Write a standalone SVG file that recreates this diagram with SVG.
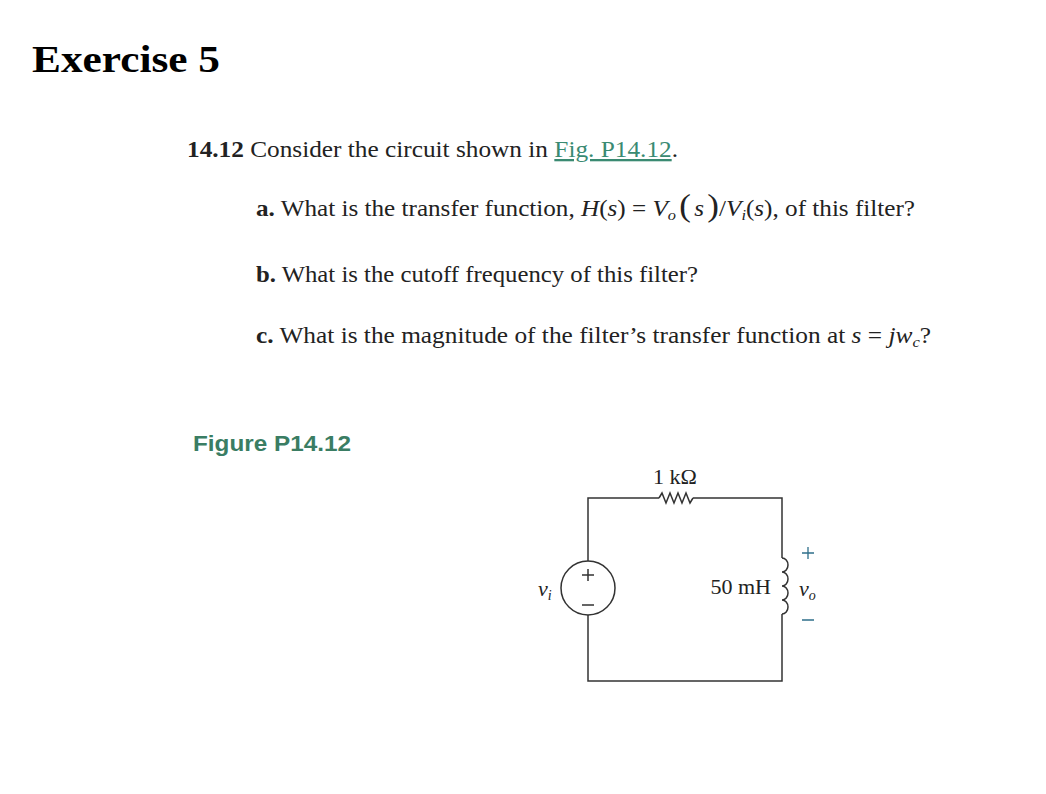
<svg xmlns="http://www.w3.org/2000/svg" width="1046" height="794" viewBox="0 0 1046 794">
<style>
.t{font-family:"Liberation Serif",serif;font-size:23px;fill:#222}
.w{fill:none;stroke:#333;stroke-width:1.5}
.c{font-family:"Liberation Serif",serif;font-size:22px;fill:#222}
</style>
<rect width="1046" height="794" fill="#fff"/>
<text x="32" y="72" font-family="Liberation Serif,serif" font-weight="bold" font-size="38" fill="#000" textLength="188" lengthAdjust="spacingAndGlyphs">Exercise 5</text>
<text x="187" y="157" class="t" textLength="491" lengthAdjust="spacingAndGlyphs"><tspan font-weight="bold">14.12</tspan>  Consider the circuit shown in <tspan fill="#3a8a72" text-decoration="underline">Fig. P14.12</tspan>.</text>
<text x="256" y="216" class="t" textLength="659" lengthAdjust="spacingAndGlyphs"><tspan font-weight="bold">a.</tspan> What is the transfer function, <tspan font-style="italic">H</tspan>(<tspan font-style="italic">s</tspan>) = <tspan font-style="italic">V</tspan><tspan font-style="italic" font-size="15" dy="4">o</tspan><tspan dy="-4" font-size="32" dx="3">(</tspan><tspan font-style="italic" dx="3">s</tspan><tspan font-size="32" dx="3">)</tspan>/<tspan font-style="italic">V</tspan><tspan font-style="italic" font-size="15" dy="4">i</tspan><tspan dy="-4">(</tspan><tspan font-style="italic">s</tspan>), of this filter?</text>
<text x="256" y="282" class="t" textLength="442" lengthAdjust="spacingAndGlyphs"><tspan font-weight="bold">b.</tspan> What is the cutoff frequency of this filter?</text>
<text x="256" y="343" class="t" textLength="675" lengthAdjust="spacingAndGlyphs"><tspan font-weight="bold">c.</tspan> What is the magnitude of the filter’s transfer function at <tspan font-style="italic">s</tspan> = <tspan font-style="italic">jw</tspan><tspan font-style="italic" font-size="15" dy="4">c</tspan><tspan dy="-4">?</tspan></text>
<text x="193" y="451" font-family="Liberation Sans,sans-serif" font-weight="bold" font-size="22" fill="#3a7d63" textLength="158" lengthAdjust="spacingAndGlyphs">Figure P14.12</text>
<g id="wires" class="w">
<path d="M659 498H588V561M588 615V681H782V614M782 558V498H693"/>
</g>
<g id="R1"><path class="w" d="M659 498l3 -5l4 10l4 -10l4 10l4 -10l4 10l4 -10l4 10l3 -5"/><text x="675" y="484" class="c" text-anchor="middle">1 kΩ</text></g>
<g id="Vi"><circle cx="588" cy="588" r="27" class="w"/><path class="w" d="M582 575h12M588 569v12M582 605h12"/><text x="538" y="596" class="c" font-style="italic">v<tspan font-size="14" dy="4">i</tspan></text></g>
<g id="L1"><path class="w" d="M782 558a6 7 0 0 1 0 14a6 7 0 0 1 0 14a6 7 0 0 1 0 14a6 7 0 0 1 0 14"/><text x="771" y="594" class="c" text-anchor="end">50 mH</text></g>
<g id="vo" fill="#2f6f8a"><path d="M802 553h12M808 547v12M802 620h12" stroke="#2f6f8a" stroke-width="1.3"/><text x="799" y="596" class="c" font-style="italic" fill="#2f6f8a">v<tspan font-size="14" dy="4">o</tspan></text></g>
</svg>
